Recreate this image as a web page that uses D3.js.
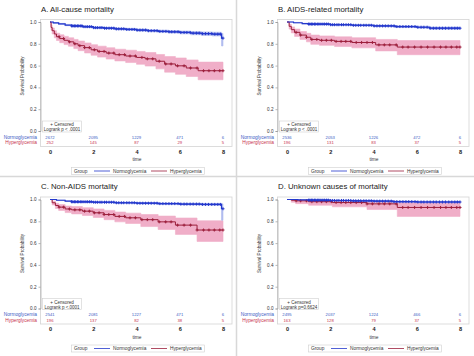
<!DOCTYPE html>
<html><head><meta charset="utf-8">
<script src="https://cdn.jsdelivr.net/npm/d3@7"></script>
<style>body{margin:0;background:#fff}svg{display:block}text{font-family:"Liberation Sans",Arial,sans-serif}</style>
</head><body><svg id="c" width="474" height="356"></svg>
<script>
const panelTitles = ["A. All-cause mortality","B. AIDS-related mortality","C. Non-AIDS mortality","D. Unknown causes of mortality"];
const xTicks = [0,2,4,6,8];
const yTicks = [0,0.2,0.4,0.6,0.8,1.0];
const groupNames = ["Normoglycemia","Hyperglycemia"];
const logrankLabels = ["Logrank p < .0001","Logrank p < .0001","Logrank p <.0001","Logrank p=0.6624"];
const atRiskNormo = [[2672,2095,1229,471,6],[2536,2053,1226,472,6],[2541,2081,1227,471,6],[2495,2037,1224,466,6]];
const atRiskHyper = [[252,145,87,29,5],[196,131,83,37,5],[196,137,82,38,5],[163,128,79,37,5]];

// [time, survival, lower CL, upper CL]
const normoA = [[0,1,1,1],[0.15,0.992,0.989,0.995],[0.4,0.982,0.977,0.987],[0.7,0.972,0.966,0.978],[1.0,0.964,0.957,0.971],[1.5,0.957,0.95,0.964],[2,0.948,0.94,0.956],[2.5,0.943,0.935,0.951],[3,0.937,0.928,0.946],[3.5,0.932,0.923,0.941],[4,0.926,0.916,0.936],[4.5,0.92,0.91,0.93],[5,0.914,0.903,0.925],[5.5,0.91,0.898,0.922],[6,0.904,0.891,0.917],[6.5,0.898,0.883,0.913],[7,0.893,0.877,0.909],[7.5,0.889,0.872,0.906],[7.93,0.852,0.78,0.895],[8,0.852,0.78,0.895]];
const hyperA = [[0,1,1,1],[0.05,0.95,0.925,0.97],[0.1,0.92,0.89,0.945],[0.2,0.89,0.855,0.92],[0.3,0.865,0.83,0.897],[0.45,0.848,0.81,0.882],[0.65,0.832,0.793,0.868],[0.85,0.818,0.778,0.855],[1.1,0.8,0.756,0.84],[1.3,0.783,0.737,0.825],[1.6,0.765,0.716,0.808],[1.9,0.745,0.695,0.792],[2.2,0.73,0.678,0.778],[2.6,0.715,0.66,0.764],[3.0,0.7,0.643,0.75],[3.5,0.688,0.628,0.741],[4.0,0.675,0.612,0.73],[4.4,0.662,0.596,0.72],[4.9,0.64,0.57,0.702],[5.3,0.615,0.54,0.683],[5.8,0.598,0.52,0.67],[6.3,0.578,0.5,0.652],[6.85,0.553,0.47,0.632],[8,0.553,0.47,0.632]];
const normoB = [[0,1,1,1],[0.3,0.993,0.99,0.996],[0.7,0.985,0.981,0.989],[1.0,0.981,0.976,0.985],[2,0.975,0.97,0.98],[3,0.97,0.964,0.976],[4,0.964,0.957,0.971],[5,0.958,0.95,0.966],[6,0.952,0.943,0.961],[6.6,0.943,0.932,0.954],[8,0.943,0.932,0.954]];
const hyperB = [[0,1,1,1],[0.1,0.96,0.935,0.98],[0.2,0.93,0.9,0.955],[0.35,0.905,0.868,0.935],[0.6,0.88,0.84,0.913],[0.9,0.86,0.818,0.896],[1.1,0.84,0.795,0.88],[1.5,0.832,0.786,0.872],[2.2,0.822,0.775,0.864],[3.0,0.812,0.763,0.856],[4.1,0.79,0.735,0.84],[5.1,0.77,0.7,0.83],[8,0.77,0.7,0.83]];
const normoC = [[0,1,1,1],[0.3,0.993,0.99,0.996],[0.7,0.985,0.981,0.989],[1.0,0.979,0.974,0.984],[2,0.975,0.97,0.98],[3,0.97,0.965,0.975],[4,0.966,0.96,0.972],[5,0.962,0.955,0.969],[6,0.958,0.95,0.966],[7,0.955,0.946,0.964],[7.93,0.915,0.81,0.96],[8,0.915,0.81,0.96]];
const hyperC = [[0,1,1,1],[0.1,0.97,0.95,0.985],[0.25,0.945,0.918,0.965],[0.4,0.93,0.9,0.953],[0.7,0.913,0.88,0.94],[1.0,0.905,0.868,0.935],[1.5,0.893,0.853,0.925],[2.0,0.878,0.835,0.913],[2.5,0.862,0.815,0.9],[3.0,0.845,0.795,0.885],[3.5,0.832,0.78,0.875],[4.2,0.815,0.752,0.862],[5.0,0.795,0.725,0.848],[5.8,0.765,0.68,0.83],[6.8,0.72,0.615,0.805],[8,0.72,0.615,0.805]];
const normoD = [[0,1,1,1],[0.5,0.997,0.995,0.999],[1.0,0.994,0.991,0.997],[2,0.991,0.987,0.995],[3,0.988,0.983,0.993],[4,0.985,0.98,0.99],[4.9,0.98,0.974,0.986],[6,0.977,0.97,0.984],[8,0.977,0.97,0.984]];
const hyperD = [[0,1,1,1],[0.2,0.993,0.975,1.0],[0.4,0.988,0.962,0.997],[1.0,0.98,0.947,0.994],[2.1,0.972,0.933,0.99],[3.7,0.96,0.908,0.985],[5.1,0.927,0.845,0.98],[8,0.927,0.845,0.98]];

const censorNormo = [1.0,1.06,1.13,1.19,1.27,1.33,1.42,1.48,1.57,1.66,1.74,1.83,1.91,2.02,2.11,2.2,2.31,2.4,2.52,2.61,2.73,2.84,2.95,3.07,3.18,3.3,3.41,3.55,3.66,3.79,3.9,4.03,4.16,4.29,4.42,4.55,4.68,4.82,4.95,5.08,5.22,5.36,5.5,5.63,5.77,5.92,6.05,6.2,6.33,6.48,6.62,6.77,6.9,7.05,7.19,7.33,7.48,7.62,7.76,7.88,8.0];
const censorHyper = [0.42,0.63,0.9,1.15,1.38,1.6,1.82,2.05,2.27,2.5,2.72,2.95,3.2,3.45,3.7,3.95,4.25,4.5,4.75,5.05,5.35,5.6,5.9,6.2,6.5,6.8,7.1,7.35,7.6,7.85,8.0];

const panels = [
  {dx:0, dy:0, normo:normoA, hyper:hyperA},
  {dx:237, dy:0, normo:normoB, hyper:hyperB},
  {dx:0, dy:177.5, normo:normoC, hyper:hyperC},
  {dx:237, dy:177.5, normo:normoD, hyper:hyperD}
];

const C = {blue:"#2438cc", blueBand:"#aab6ee", red:"#9c1f3c", redBand:"#efa6c3", blueTxt:"#3d5bc4", redTxt:"#c8324f", frame:"#d4d4d4"};
const svg = d3.select("#c");

svg.append("line").attr("x1",236.5).attr("x2",236.5).attr("y1",0).attr("y2",356).attr("stroke","#d8d8d8").attr("stroke-width",1.5);
svg.append("line").attr("x1",0).attr("x2",474).attr("y1",176.5).attr("y2",176.5).attr("stroke","#d8d8d8").attr("stroke-width",1.5);

function survAt(data, t){ let s=1; for(const d of data){ if(d[0]<=t) s=d[1]; } return s; }

panels.forEach((p,i)=>{
  const g = svg.append("g").attr("transform",`translate(${p.dx},${p.dy})`);
  const x = d3.scaleLinear().domain([0,8]).range([50,223]);
  const y = d3.scaleLinear().domain([0,1]).range([131,22]);
  g.append("rect").attr("x",40.5).attr("y",19.5).attr("width",191.5).attr("height",127).attr("fill","none").attr("stroke",C.frame).attr("stroke-width",0.8);
  g.append("text").attr("x",41).attr("y",11.5).attr("font-size",7.8).attr("fill","#222").text(panelTitles[i]);
  const ya = g.append("g").attr("transform","translate(40.5,0)").call(d3.axisLeft(y).tickValues(yTicks).tickFormat(d3.format(".1f")).tickSize(2).tickPadding(2));
  ya.select(".domain").attr("stroke","#999").attr("stroke-width",0.6);
  ya.selectAll(".tick line").attr("stroke","#888").attr("stroke-width",0.6);
  ya.selectAll("text").attr("font-size",4.6).attr("fill","#333").attr("font-family","Liberation Sans, Arial");
  g.append("text").attr("transform","translate(24,76) rotate(-90)").attr("text-anchor","middle").attr("font-size",4.6).attr("fill","#333").text("Survival Probability");
  const xa = g.append("g").attr("transform","translate(0,146.5)").call(d3.axisBottom(x).tickValues(xTicks).tickSize(0).tickPadding(3.5));
  xa.select(".domain").remove();
  xa.selectAll("text").attr("font-size",5.6).attr("font-weight","bold").attr("fill","#222").attr("font-family","Liberation Sans, Arial");
  g.append("text").attr("x",137).attr("y",161).attr("text-anchor","middle").attr("font-size",4.8).attr("fill","#333").text("time");

  const bandArea = d3.area().x(d=>x(d[0])).y0(d=>y(d[2])).y1(d=>y(d[3])).curve(d3.curveStepAfter);
  const line = d3.line().x(d=>x(d[0])).y(d=>y(d[1])).curve(d3.curveStepAfter);
  const series = [[p.hyper,C.redBand,C.red,censorHyper,1.0],[p.normo,C.blueBand,C.blue,censorNormo,1.2]];
  series.forEach(([data,band])=>{
    g.append("path").datum(data).attr("d",bandArea).attr("fill",band).attr("stroke",band).attr("stroke-width",0.6).attr("opacity",0.9);
  });
  series.forEach(([data,band,col,cens,sw])=>{
    g.append("path").datum(data).attr("d",line).attr("fill","none").attr("stroke",col).attr("stroke-width",sw);
    const cg = g.append("g").attr("stroke",col).attr("stroke-width",1);
    cens.forEach(t=>{
      const cx = x(t), cy = y(survAt(data,t));
      cg.append("line").attr("x1",cx-1.5).attr("x2",cx+1.5).attr("y1",cy).attr("y2",cy);
      cg.append("line").attr("x1",cx).attr("x2",cx).attr("y1",cy-1.5).attr("y2",cy+1.5);
    });
  });

  g.append("rect").attr("x",42.5).attr("y",121).attr("width",39).attr("height",11).attr("fill","#fff").attr("stroke","#cfcfcf").attr("stroke-width",0.6);
  g.append("text").attr("x",62).attr("y",126).attr("text-anchor","middle").attr("font-size",4.5).attr("fill","#333").text("+ Censored");
  g.append("text").attr("x",62).attr("y",131).attr("text-anchor","middle").attr("font-size",4.5).attr("fill","#333").text(logrankLabels[i]);

  g.append("text").attr("x",37).attr("y",138.8).attr("text-anchor","end").attr("font-size",4.8).attr("fill",C.blueTxt).text(groupNames[0]);
  g.append("text").attr("x",37).attr("y",144.2).attr("text-anchor","end").attr("font-size",4.8).attr("fill",C.redTxt).text(groupNames[1]);
  xTicks.forEach((t,k)=>{
    g.append("text").attr("x",x(t)).attr("y",138.8).attr("text-anchor","middle").attr("font-size",4.2).attr("fill",C.blueTxt).text(atRiskNormo[i][k]);
    g.append("text").attr("x",x(t)).attr("y",144.2).attr("text-anchor","middle").attr("font-size",4.2).attr("fill",C.redTxt).text(atRiskHyper[i][k]);
  });

  g.append("rect").attr("x",71.5).attr("y",167.5).attr("width",133).attr("height",7).attr("fill","#fff").attr("stroke","#cfcfcf").attr("stroke-width",0.6);
  g.append("text").attr("x",74).attr("y",172.8).attr("font-size",4.8).attr("fill","#333").text("Group");
  g.append("line").attr("x1",94).attr("x2",110).attr("y1",171).attr("y2",171).attr("stroke",C.blue).attr("stroke-width",0.8);
  g.append("text").attr("x",113).attr("y",172.8).attr("font-size",4.8).attr("fill","#333").text(groupNames[0]);
  g.append("line").attr("x1",151).attr("x2",167).attr("y1",171).attr("y2",171).attr("stroke",C.red).attr("stroke-width",0.8);
  g.append("text").attr("x",170).attr("y",172.8).attr("font-size",4.8).attr("fill","#333").text(groupNames[1]);
});
</script></body></html>
